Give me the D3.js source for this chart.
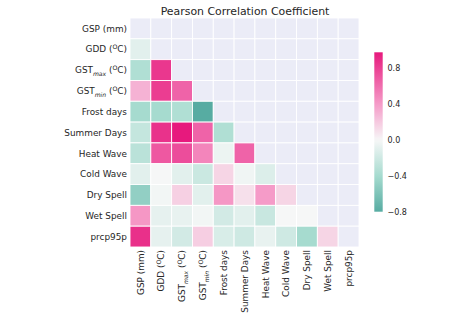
<!DOCTYPE html>
<html><head><meta charset="utf-8">
<script src="https://cdn.jsdelivr.net/npm/d3@7"></script>
<style>
html,body{margin:0;padding:0;background:#fff;}
svg{display:block;font-family:"DejaVu Sans",sans-serif;}
</style></head>
<body>
<svg id="chart" width="474" height="321"></svg>
<script>
// ---- data ----
const variables = ["GSP (mm)", "GDD (^{O}C)", "GST_{max} (^{O}C)", "GST_{min} (^{O}C)", "Frost days",
  "Summer Days", "Heat Wave", "Cold Wave", "Dry Spell", "Wet Spell", "prcp95p"];
// lower-triangle correlation rows (row i, columns 0..i-1)
const rowGSP = [];
const rowGDD = [-0.10];
const rowGSTmax = [-0.35, 0.85];
const rowGSTmin = [0.30, 0.82, 0.65];
const rowFrost = [-0.40, -0.40, -0.35, -0.80];
const rowSummer = [-0.25, 0.87, 0.98, 0.65, -0.35];
const rowHeat = [-0.30, 0.70, 0.75, 0.50, -0.05, 0.65];
const rowCold = [-0.10, 0.00, -0.10, -0.22, 0.15, -0.03, -0.13];
const rowDry = [-0.50, -0.02, 0.17, -0.10, 0.42, 0.10, 0.40, 0.15];
const rowWet = [0.42, -0.08, -0.07, -0.02, -0.18, -0.10, -0.23, 0.00, 0.00];
const rowPrcp = [0.88, -0.08, -0.18, 0.18, -0.15, -0.20, -0.07, -0.20, -0.40, 0.15];
const colorbarTicks = [0.8, 0.4, 0.0, -0.4, -0.8];
const title = "Pearson Correlation Coefficient";

const rows = [rowGSP, rowGDD, rowGSTmax, rowGSTmin, rowFrost, rowSummer, rowHeat, rowCold, rowDry, rowWet, rowPrcp];

// ---- layout ----
const svg = d3.select("#chart");
const n = variables.length;
const x = d3.scaleBand().domain(d3.range(n)).range([130, 359]).padding(0);
const y = d3.scaleBand().domain(d3.range(n)).range([18, 247]).padding(0);

const color = d3.scaleLinear()
  .domain([-1, -0.4, 0, 0.4, 1])
  .range(["#2f948b", "#a6dbcf", "#f6f7f7", "#f59bc8", "#e6157a"])
  .clamp(true);

const cells = [];
for (let i = 0; i < n; i++) for (let j = 0; j < n; j++) {
  cells.push({i, j, v: j < i ? rows[i][j] : null});
}

svg.append("g").selectAll("rect").data(cells).join("rect")
  .attr("x", d => x(d.j)).attr("y", d => y(d.i))
  .attr("width", x.bandwidth()).attr("height", y.bandwidth())
  .attr("fill", d => d.v === null ? "#ebecf7" : color(d.v))
  .attr("stroke", "#fff").attr("stroke-width", 0.9);

// ---- rich labels ----
function addRich(sel, str, fs) {
  const parts = str.split(/(_\{[^}]*\}|\^\{[^}]*\})/).filter(s => s.length);
  let shift = 0;
  parts.forEach(p => {
    const t = sel.append("tspan");
    let target = 0, size = fs, txt = p, italic = false;
    if (p.startsWith("_{")) { target = fs * 0.3; size = fs * 0.68; txt = p.slice(2, -1); italic = true; }
    else if (p.startsWith("^{")) { target = -fs * 0.4; size = fs * 0.7; txt = p.slice(2, -1); }
    t.attr("font-size", size).text(txt);
    if (italic) t.attr("font-style", "italic");
    if (target - shift !== 0) t.attr("dy", target - shift);
    shift = target;
  });
}

const labelFs = 8.9;
const yl = svg.append("g");
variables.forEach((v, i) => {
  const t = yl.append("text")
    .attr("x", 127).attr("y", y(i) + y.bandwidth() / 2 + 3.2)
    .attr("text-anchor", "end").attr("fill", "#262626").attr("font-size", labelFs);
  addRich(t, v, labelFs);
});
const xl = svg.append("g");
variables.forEach((v, j) => {
  const cx = x(j) + x.bandwidth() / 2 + 3.2;
  const t = xl.append("text")
    .attr("transform", `translate(${cx},250) rotate(-90)`)
    .attr("text-anchor", "end").attr("fill", "#262626").attr("font-size", labelFs);
  addRich(t, v, labelFs);
});

// ---- title ----
svg.append("text").attr("x", 245).attr("y", 15).attr("text-anchor", "middle")
  .attr("font-size", 10.9).attr("fill", "#262626").text(title);

// ---- colorbar ----
const allVals = rows.flat();
const ext = d3.extent(allVals);
const cb = d3.scaleLinear().domain(ext).range([211.7, 52.3]);
const defs = svg.append("defs");
const grad = defs.append("linearGradient").attr("id", "cbg")
  .attr("x1", 0).attr("x2", 0).attr("y1", 1).attr("y2", 0);
d3.range(0, 1.0001, 0.02).forEach(t => {
  const v = ext[0] + t * (ext[1] - ext[0]);
  grad.append("stop").attr("offset", t).attr("stop-color", color(v));
});
svg.append("rect").attr("x", 374.3).attr("y", cb.range()[1])
  .attr("width", 8.4).attr("height", cb.range()[0] - cb.range()[1])
  .attr("fill", "url(#cbg)");
const fmt = v => (v < 0 ? "\u2212" : "") + Math.abs(v).toFixed(1);
svg.append("g").selectAll("text").data(colorbarTicks).join("text")
  .attr("x", 387.5).attr("y", d => cb(d) + 2.9)
  .attr("font-size", 8).attr("fill", "#262626").text(fmt);
</script>
</body></html>
